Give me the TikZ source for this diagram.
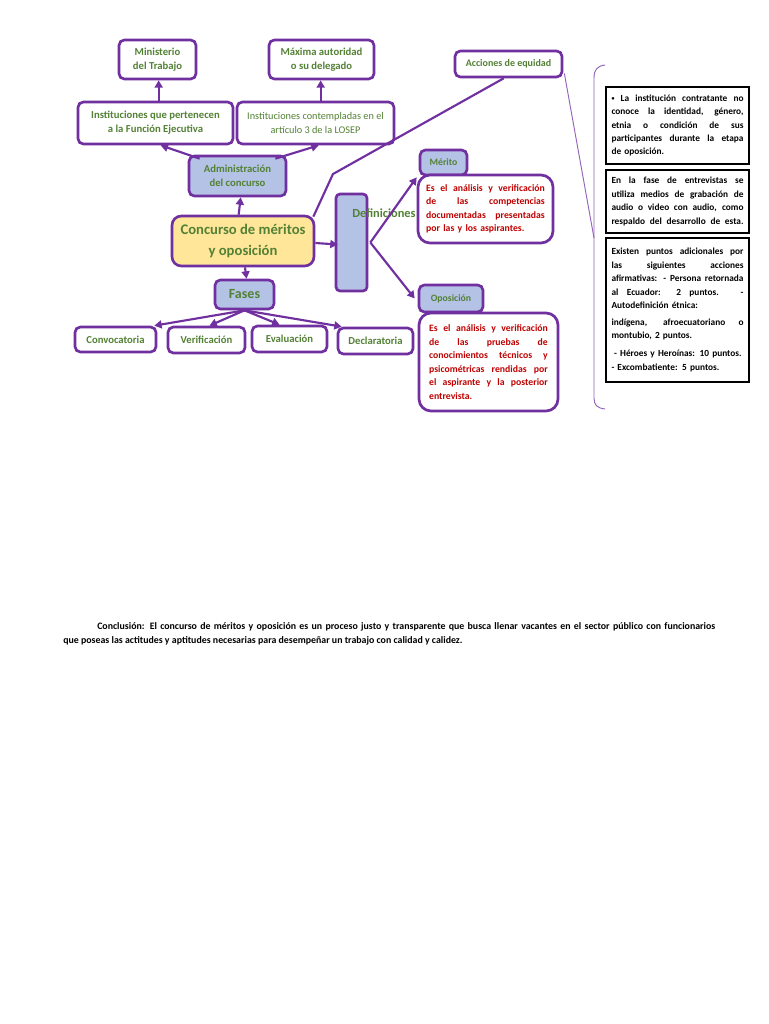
\documentclass[tikz,border=0pt]{standalone}
\usepackage{fontspec}
\setmainfont{Carlito}
\usetikzlibrary{arrows.meta,calc}
\definecolor{purp}{HTML}{7030A0}
\definecolor{grn}{HTML}{538135}
\definecolor{blu}{HTML}{B4C2E6}
\definecolor{yel}{HTML}{FFE699}
\definecolor{dred}{HTML}{C00000}
\newcommand{\jlw}{89pt}
\newcommand{\jl}[1]{\leavevmode\hbox to \jlw{\spaceskip=0pt\xspaceskip=0pt\relax #1}}
\begin{document}
\begin{tikzpicture}[x=0.75pt,y=-0.75pt,
  sz/.style 2 args={minimum width=#1*0.75pt, minimum height=#2*0.75pt},
  gbox/.style={draw=purp, line width=2pt, rounded corners=4pt, fill=white, text=grn,
    font=\bfseries\fontsize{8}{10.5}\selectfont, align=center, inner sep=1pt},
  bbox/.style={gbox, fill=blu},
  ybox/.style={gbox, fill=yel, rounded corners=7pt, font=\bfseries\fontsize{11}{15.5}\selectfont},
  lbl/.style={bbox, font=\bfseries\fontsize{7.3}{9}\selectfont},
  rbox/.style={draw=purp, line width=2pt, rounded corners=9pt, fill=white, text=dred,
    font=\bfseries\fontsize{7.3}{10.1}\selectfont, align=left, text width=89pt, inner sep=2pt,
    execute at begin node={\renewcommand{\jlw}{89pt}}},
  nbox/.style={draw=black, line width=0.8pt, fill=white, text=black,
    font=\bfseries\fontsize{7}{10.1}\selectfont, align=left, text width=99pt, inner sep=2pt,
    execute at begin node={\renewcommand{\jlw}{99pt}}},
  arr/.style={draw=purp, line width=1.6pt, -{Triangle[length=5.5pt,width=6pt]}},
  conn/.style={draw=purp, line width=1.6pt},
  thin/.style={draw=purp!75, line width=0.7pt}
]
\useasboundingbox[fill=white] (0,0) rectangle (768,1024);

% top boxes
\node[gbox, sz={77}{39}] (min) at (157.5,59.5) {Ministerio\\del Trabajo};
\node[gbox, sz={105}{39}] (max) at (321.5,59.5) {Máxima autoridad\\o su delegado};
\node[gbox, sz={155}{42}] (ife) at (155.5,123) {Instituciones que pertenecen\\a la Función Ejecutiva};
\node[gbox, sz={157}{42}, font=\mdseries\fontsize{7.7}{10.5}\selectfont] (ilo) at (315.5,123) {Instituciones contempladas en el\\artículo 3 de la LOSEP};
\node[bbox, sz={97}{40}] (adm) at (237.5,176) {Administración\\del concurso};
\node[ybox, sz={142}{50}] (con) at (243,241) {Concurso de méritos\\y oposición};

% definiciones
\node[bbox, sz={31}{97}, rounded corners=3pt] (def) at (351.5,242.5) {};
\node[text=grn, font=\bfseries\fontsize{9.3}{11}\selectfont, inner sep=0pt] (deft) at (384,213) {Definiciones};

\node[lbl, sz={47}{25}] (mer) at (443.5,162.5) {Mérito};
\node[rbox, sz={135}{68}] (merb) at (485.5,209) {\jl{Es el análisis y verificación}\\\jl{de las competencias}\\\jl{documentadas presentadas}\\por las y los aspirantes.};
\node[lbl, sz={64}{27}] (opo) at (451,298.5) {Oposición};
\node[rbox, sz={139}{98}] (opob) at (488.5,362) {\jl{Es el análisis y verificación}\\\jl{de las pruebas de}\\\jl{conocimientos técnicos y}\\\jl{psicométricas rendidas por}\\\jl{el aspirante y la posterior}\\entrevista.};

\node[gbox, sz={107}{26}, font=\bfseries\fontsize{7.5}{9}\selectfont] (acc) at (508.5,64) {Acciones de equidad};

% fases
\node[bbox, sz={59}{29}, font=\bfseries\fontsize{10.5}{12}\selectfont] (fas) at (244.5,294.5) {Fases};
\node[gbox, sz={81}{25}] (cvc) at (115.5,339.5) {Convocatoria};
\node[gbox, sz={77}{26}] (ver) at (206.5,340) {Verificación};
\node[gbox, sz={75}{26}] (eva) at (289.5,339) {Evaluación};
\node[gbox, sz={75}{26}] (dec) at (375.5,341) {Declaratoria};

% right boxes
\node[nbox, sz={143}{77}] (r1) at (677.5,125.5) {\jl{{\fontsize{4.5}{5}\selectfont\raisebox{0.25ex}{•}} La institución contratante no}\\\jl{conoce la identidad, género,}\\\jl{etnia o condición de sus}\\\jl{participantes durante la etapa}\\de oposición.};
\node[nbox, sz={143}{63}] (r2) at (677.5,201.5) {\jl{En la fase de entrevistas se}\\\jl{utiliza medios de grabación de}\\\jl{audio o video con audio, como}\\\jl{respaldo del desarrollo de esta.}};
\node[nbox, sz={143}{144}] (r3) at (677.5,310) {\jl{Existen puntos adicionales por}\\\jl{las siguientes acciones}\\\jl{afirmativas: - Persona retornada}\\\jl{al Ecuador: 2 puntos. -}\\Autodefinición étnica:\\[2.6pt]\jl{indígena, afroecuatoriano o}\\montubio, 2 puntos.\\[3.4pt]\hspace{2pt}- Héroes y Heroínas: 10 puntos.\\- Excombatiente: 5 puntos.};

% brace and thin connector
\coordinate (bmid) at (594,238);
\draw[thin] (605,65) .. controls (597,66) and (594,70) .. (594,78) -- (594,398) .. controls (594,405) and (597,408) .. (605,409);
\draw[thin] ($(acc.south east)+(1,-5)$) -- (bmid);

% connectors
\draw[arr] ($(adm.north west)+(12,4)$) -- ($(ife.south west)+(84,0)$);
\draw[arr] ($(adm.north east)+(-12,4)$) -- ($(ilo.south west)+(83,0)$);
\draw[arr] ($(ife.north west)+(82,0)$) -- ($(min.south west)+(41,0)$);
\draw[arr] ($(ilo.north west)+(85,0)$) -- ($(max.south west)+(53,0)$);
\draw[arr] ($(con.north west)+(68,0)$) -- ($(adm.south west)+(53,0)$);
\draw[arr] ($(con.east)+(0,2)$) -- ($(def.west)+(3,2)$);
\draw[arr] ($(con.south)+(2,0)$) -- ($(fas.north)+(2,0)$);
\draw[conn] ($(con.north east)+(-2,2)$) -- (333,174) -- ($(acc.south west)+(50,0)$);
\coordinate (defp) at ($(def.east)+(2,0)$);
\draw[arr] (defp) -- ($(mer.south west)+(-2,1)$);
\draw[arr] (defp) -- ($(opo.west)+(-3,0)$);
\draw[arr] (fas.south) -- ($(cvc.north east)+(-3,0)$);
\draw[arr] (fas.south) -- ($(ver.north)+(3,0)$);
\draw[arr] (fas.south) -- ($(eva.north)+(-10,0)$);
\draw[arr] (fas.south) -- ($(dec.north west)+(5,0)$);

% conclusion
\node[anchor=west, inner sep=0pt, font=\bfseries\fontsize{7.4}{8}\selectfont] (c1) at (97,627) {\makebox[463.5pt][s]{Conclusión: El concurso de méritos y oposición es un proceso justo y transparente que busca llenar vacantes en el sector público con funcionarios}};
\node[anchor=west, inner sep=0pt, font=\bfseries\fontsize{7.4}{8}\selectfont] (c2) at (63,641) {que poseas las actitudes y aptitudes necesarias para desempeñar un trabajo con calidad y calidez.};
\end{tikzpicture}
\end{document}
